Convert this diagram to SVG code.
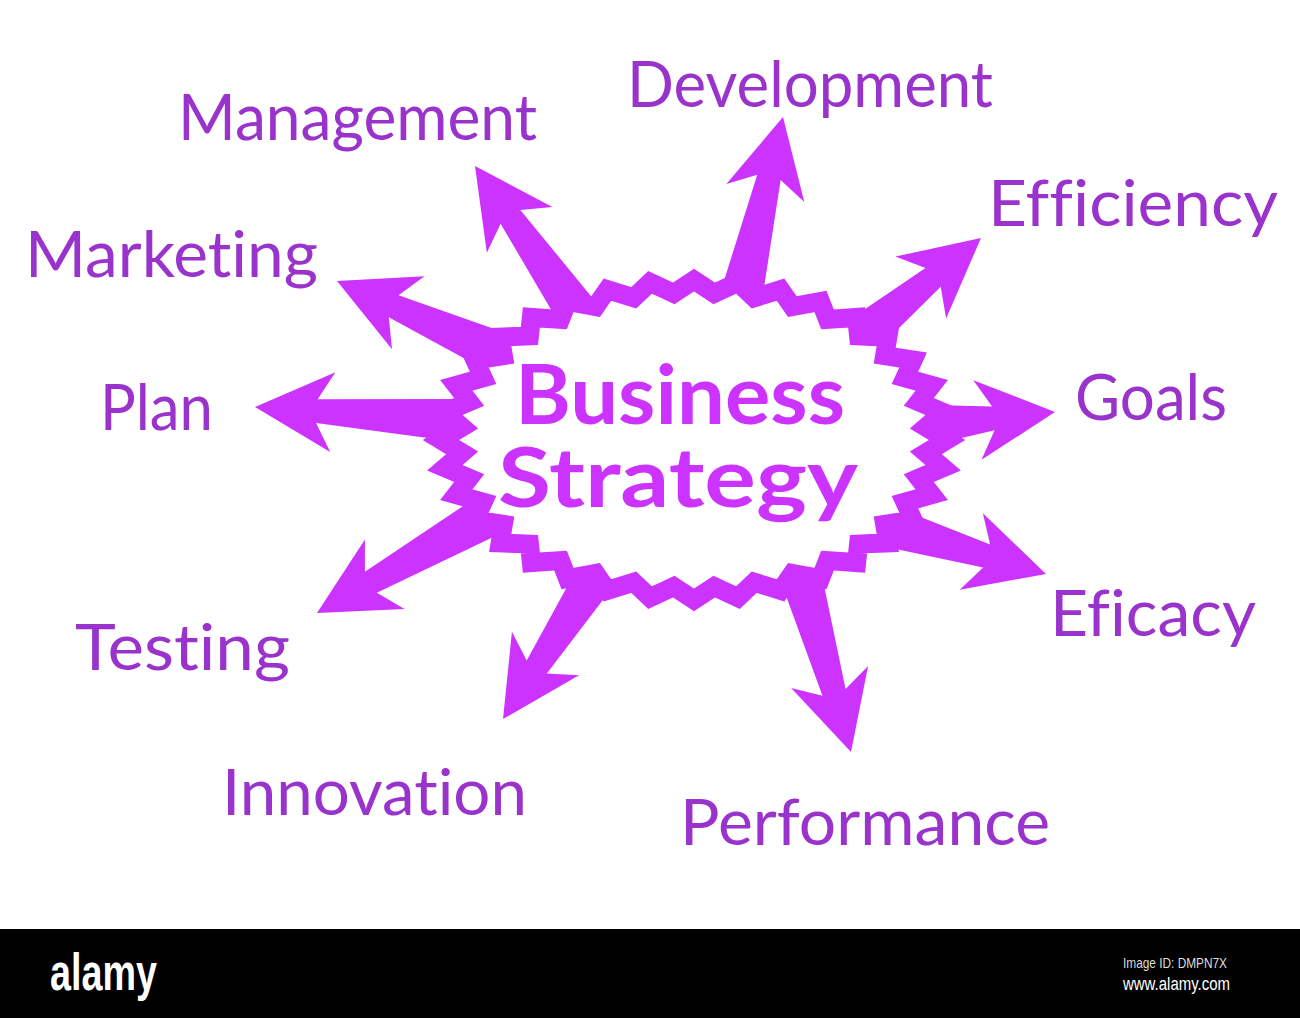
<svg xmlns="http://www.w3.org/2000/svg" width="1300" height="1018" viewBox="0 0 1300 1018">
<style>
.arrow{fill:#CC33FF;}
.lbl{font-family:Lato,"Open Sans",sans-serif;font-size:63px;fill:#9933CC;font-variant-ligatures:none;}
.ctr{font-family:Lato,"Open Sans",sans-serif;font-size:82px;font-weight:bold;fill:#CC33FF;font-variant-ligatures:none;}
</style>
<rect x="0" y="0" width="1300" height="1018" fill="#ffffff"/>
<g id="connectors">
<path class="arrow" d="M0,0 L-78,-40 L-62,-12 L-190,-22 L-190,22 L-62,12 L-78,40 Z" transform="translate(475,166) rotate(-124.9)"/>
<path class="arrow" d="M0,0 L-78,-40 L-62,-12 L-195,-22 L-195,22 L-62,12 L-78,40 Z" transform="translate(783,117) rotate(-76.9)"/>
<path class="arrow" d="M0,0 L-78,-40 L-62,-12 L-170,-22 L-170,22 L-62,12 L-78,40 Z" transform="translate(981,238) rotate(-39.4)"/>
<path class="arrow" d="M0,0 L-78,-40 L-62,-12 L-140,-22 L-140,22 L-62,12 L-78,40 Z" transform="translate(1055,412) rotate(-5.9)"/>
<path class="arrow" d="M0,0 L-78,-40 L-62,-12 L-180,-22 L-180,22 L-62,12 L-78,40 Z" transform="translate(1046,574) rotate(16.8)"/>
<path class="arrow" d="M0,0 L-78,-40 L-62,-12 L-200,-22 L-200,22 L-62,12 L-78,40 Z" transform="translate(851,752) rotate(74.1)"/>
<path class="arrow" d="M0,0 L-78,-40 L-62,-12 L-195,-22 L-195,22 L-62,12 L-78,40 Z" transform="translate(503,719) rotate(123)"/>
<path class="arrow" d="M0,0 L-78,-40 L-62,-12 L-200,-22 L-200,22 L-62,12 L-78,40 Z" transform="translate(317,613) rotate(150.3)"/>
<path class="arrow" d="M0,0 L-78,-40 L-62,-12 L-210,-22 L-210,22 L-62,12 L-78,40 Z" transform="translate(255,407) rotate(183.8)"/>
<path class="arrow" d="M0,0 L-78,-40 L-62,-12 L-185,-22 L-185,22 L-62,12 L-78,40 Z" transform="translate(337,281) rotate(204)"/>
</g>
<g id="center">
<polygon transform="translate(694,440) scale(2.53,1.6)" vector-effect="non-scaling-stroke" fill="#ffffff" stroke="#CC33FF" stroke-width="19" stroke-linejoin="miter" points="100,0 91.65,8.02 98.48,17.36 88.86,23.81 93.97,34.2 83.38,38.88 86.6,50 75.37,52.77 76.6,64.28 65.05,65.05 64.28,76.6 52.77,75.37 50,86.6 38.88,83.38 34.2,93.97 23.81,88.86 17.36,98.48 8.02,91.65 0,100 -8.02,91.65 -17.36,98.48 -23.81,88.86 -34.2,93.97 -38.88,83.38 -50,86.6 -52.77,75.37 -64.28,76.6 -65.05,65.05 -76.6,64.28 -75.37,52.77 -86.6,50 -83.38,38.88 -93.97,34.2 -88.86,23.81 -98.48,17.36 -91.65,8.02 -100,0 -91.65,-8.02 -98.48,-17.36 -88.86,-23.81 -93.97,-34.2 -83.38,-38.88 -86.6,-50 -75.37,-52.77 -76.6,-64.28 -65.05,-65.05 -64.28,-76.6 -52.77,-75.37 -50,-86.6 -38.88,-83.38 -34.2,-93.97 -23.81,-88.86 -17.36,-98.48 -8.02,-91.65 0,-100 8.02,-91.65 17.36,-98.48 23.81,-88.86 34.2,-93.97 38.88,-83.38 50,-86.6 52.77,-75.37 64.28,-76.6 65.05,-65.05 76.6,-64.28 75.37,-52.77 86.6,-50 83.38,-38.88 93.97,-34.2 88.86,-23.81 98.48,-17.36 91.65,-8.02"/>
<text class="ctr" x="515" y="424" textLength="330" lengthAdjust="spacingAndGlyphs">Business</text>
<text class="ctr" x="498" y="507" textLength="360" lengthAdjust="spacingAndGlyphs">Strategy</text>
</g>
<g id="n-development"><text class="lbl" x="627" y="107" textLength="366" lengthAdjust="spacingAndGlyphs">Development</text></g>
<g id="n-management"><text class="lbl" x="178" y="140" textLength="359" lengthAdjust="spacingAndGlyphs">Management</text></g>
<g id="n-efficiency"><text class="lbl" x="988" y="226" textLength="290" lengthAdjust="spacingAndGlyphs">Efficiency</text></g>
<g id="n-marketing"><text class="lbl" x="25" y="277" textLength="293" lengthAdjust="spacingAndGlyphs">Marketing</text></g>
<g id="n-plan"><text class="lbl" x="100" y="430" textLength="113" lengthAdjust="spacingAndGlyphs">Plan</text></g>
<g id="n-goals"><text class="lbl" x="1075" y="420" textLength="152" lengthAdjust="spacingAndGlyphs">Goals</text></g>
<g id="n-eficacy"><text class="lbl" x="1050" y="636" textLength="206" lengthAdjust="spacingAndGlyphs">Eficacy</text></g>
<g id="n-testing"><text class="lbl" x="75" y="670" textLength="215" lengthAdjust="spacingAndGlyphs">Testing</text></g>
<g id="n-innovation"><text class="lbl" x="222" y="815" textLength="305" lengthAdjust="spacingAndGlyphs">Innovation</text></g>
<g id="n-performance"><text class="lbl" x="680" y="845" textLength="370" lengthAdjust="spacingAndGlyphs">Performance</text></g>
<g id="footer">
<rect x="0" y="929" width="1300" height="89" fill="#000000"/>
<text x="50" y="990" font-family="'Liberation Sans',sans-serif" font-weight="bold" font-size="52" fill="#ffffff" textLength="107" lengthAdjust="spacingAndGlyphs">alamy</text>
<text x="1123" y="968" font-family="'Liberation Sans',sans-serif" font-size="15" fill="#dddddd" textLength="104" lengthAdjust="spacingAndGlyphs">Image ID: DMPN7X</text>
<text x="1123" y="990" font-family="'Liberation Sans',sans-serif" font-size="18" fill="#ffffff" textLength="107" lengthAdjust="spacingAndGlyphs">www.alamy.com</text>
</g>
</svg>
